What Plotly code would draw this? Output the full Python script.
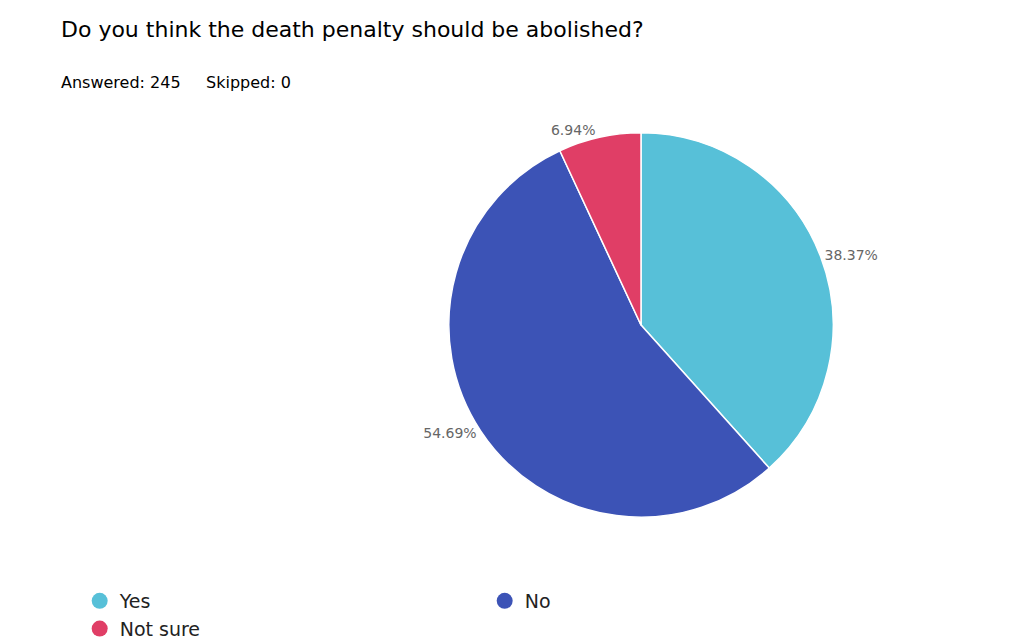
import plotly.graph_objects as go

labels = ["Yes", "No", "Not sure"]
values = [38.37, 54.69, 6.94]
colors = ["#57C0D8", "#3C53B6", "#E03E66"]

W, H = 1024, 640
cx, cy, r = 633, 320, 194

fig = go.Figure()
fig.add_trace(go.Pie(
    labels=labels, values=values, sort=False, direction="clockwise", rotation=0,
    marker=dict(colors=colors, line=dict(color="white", width=1.5)),
    texttemplate="%{value:.2f}%", textposition="outside",
    textfont=dict(color="#666666", size=14, family="DejaVu Sans"),
    showlegend=False, hoverinfo="label+value",
    domain=dict(x=[(cx - r) / W, (cx + r) / W], y=[1 - (cy + r) / H, 1 - (cy - r) / H]),
))
for l, c in zip(labels, colors):
    fig.add_trace(go.Scatter(x=[None], y=[None], mode="markers", name=l,
                             marker=dict(symbol="circle", size=18, color=c)))

fig.update_layout(
    width=W, height=H, margin=dict(l=0, r=0, t=0, b=0),
    paper_bgcolor="white", plot_bgcolor="white",
    font=dict(family="DejaVu Sans", color="black"),
    xaxis=dict(visible=False), yaxis=dict(visible=False),
    legend=dict(orientation="h", x=0.07, xanchor="left", y=1 - 613 / H, yanchor="middle",
                entrywidth=360, entrywidthmode="pixels", font=dict(size=19, color="#222")),
    annotations=[
        dict(text="Do you think the death penalty should be abolished?", x=51 / W, y=1 - 22 / H,
             xref="paper", yref="paper", xanchor="left", yanchor="middle", showarrow=False,
             font=dict(size=22, color="black")),
        dict(text="Answered: 245&nbsp;&nbsp;&nbsp;&nbsp;&nbsp;Skipped: 0", x=51 / W, y=1 - 75 / H,
             xref="paper", yref="paper", xanchor="left", yanchor="middle", showarrow=False,
             font=dict(size=16, color="black")),
    ],
)
fig.write_html("out.html")
